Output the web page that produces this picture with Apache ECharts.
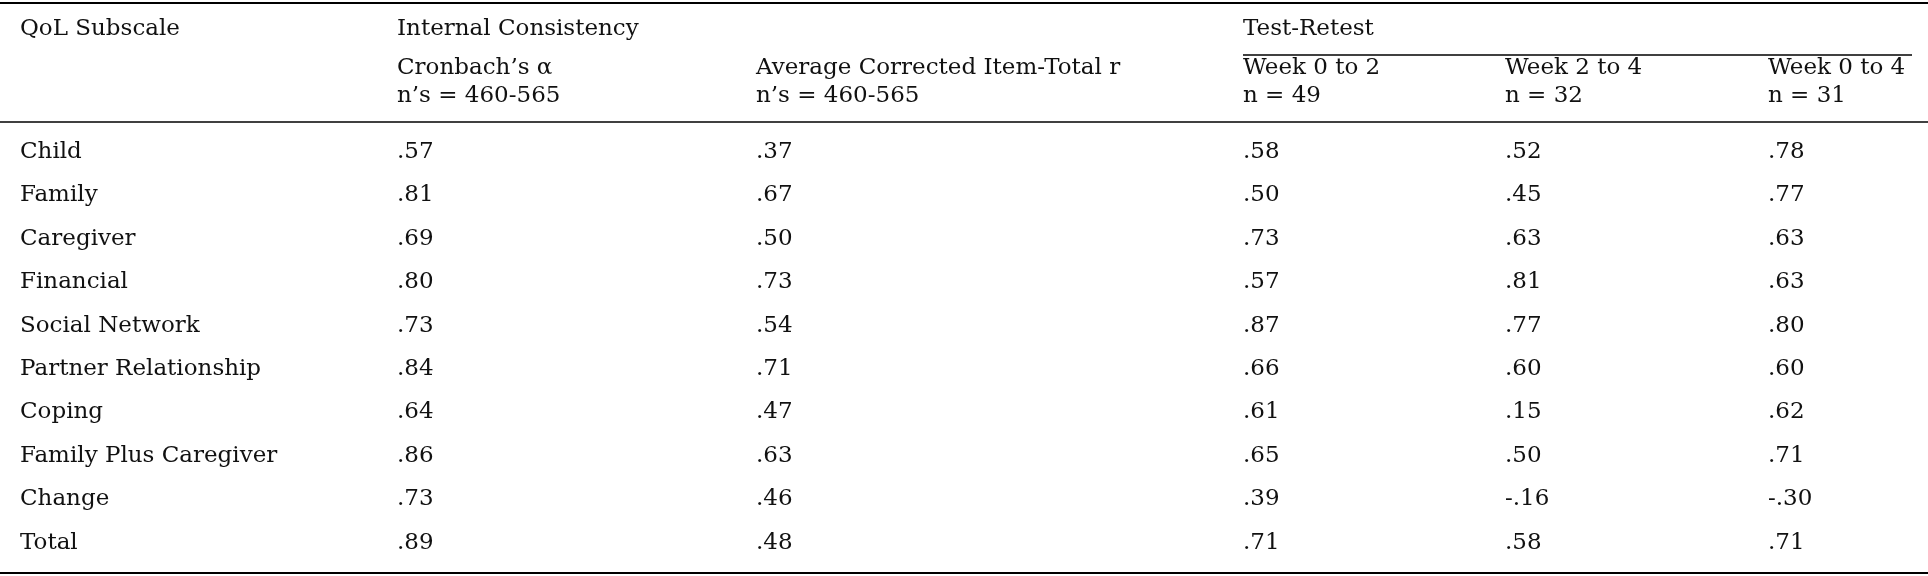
<!DOCTYPE html>
<html><head><meta charset="utf-8">
<script src="https://cdn.jsdelivr.net/npm/echarts@6/dist/echarts.min.js"></script>
<style>html,body{margin:0;padding:0;background:#fff}#c{width:1928px;height:576px}</style>
</head><body><div id="c"></div>
<script>
const subscales = ["Child","Family","Caregiver","Financial","Social Network","Partner Relationship","Coping","Family Plus Caregiver","Change","Total"];
const cronbach = [".57",".81",".69",".80",".73",".84",".64",".86",".73",".89"];
const itemTotal = [".37",".67",".50",".73",".54",".71",".47",".63",".46",".48"];
const week02 = [".58",".50",".73",".57",".87",".66",".61",".65",".39",".71"];
const week24 = [".52",".45",".63",".81",".77",".60",".15",".50","-.16",".58"];
const week04 = [".78",".77",".63",".63",".80",".60",".62",".71","-.30",".71"];
const colHeaders = [["QoL Subscale",""],["Cronbach’s α","n’s = 460-565"],["Average Corrected Item-Total r","n’s = 460-565"],["Week 0 to 2","n = 49"],["Week 2 to 4","n = 32"],["Week 0 to 4","n = 31"]];

const colX = [20, 397, 756, 1243, 1505, 1768];
const font = '23px "DejaVu Serif", serif';
const rowY0 = 152, rowH = 43.4;
const g = [];
function t(x,y,s){g.push({type:'text',x:x,y:y,style:{text:s,font:font,fill:'#111',textVerticalAlign:'middle'}});}
function ln(x1,y,x2,w){g.push({type:'line',shape:{x1:x1,y1:y,x2:x2,y2:y},style:{stroke:'#000',lineWidth:w}});}
ln(0,3,1928,2); ln(1243,55,1912,1.5); ln(0,122,1928,1.5); ln(0,573,1928,2);
t(20,29,"QoL Subscale"); t(397,29,"Internal Consistency"); t(1243,29,"Test-Retest");
for(let i=1;i<colHeaders.length;i++){t(colX[i],68,colHeaders[i][0]);t(colX[i],96,colHeaders[i][1]);}
const cols=[subscales,cronbach,itemTotal,week02,week24,week04];
cols.forEach((c,ci)=>c.forEach((v,ri)=>t(colX[ci],rowY0+ri*rowH,v)));
const chart = echarts.init(document.getElementById('c'));
chart.setOption({animation:false,graphic:g});
</script></body></html>
